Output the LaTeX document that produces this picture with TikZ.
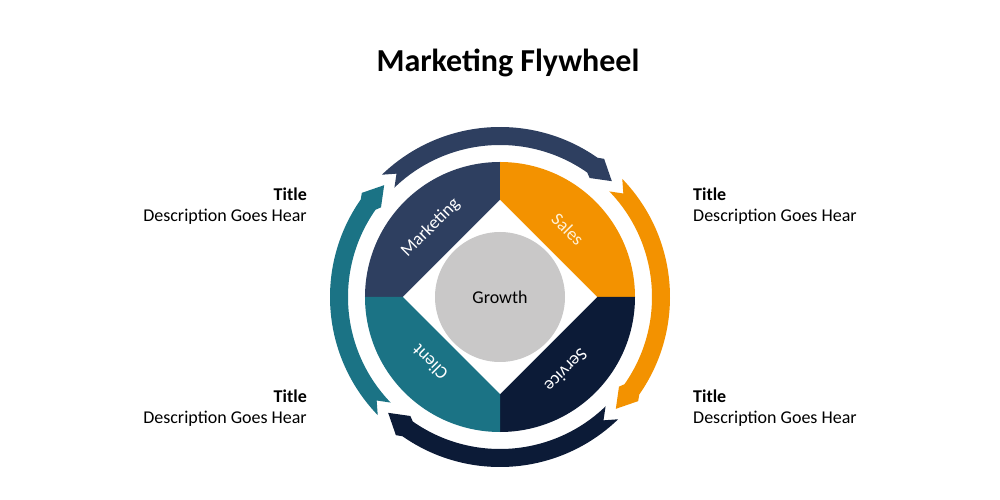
\documentclass[tikz,border=0pt]{standalone}
\usepackage{fontspec}
\setmainfont{Carlito}
\definecolor{cslate}{HTML}{2E3F60}
\definecolor{corange}{HTML}{F39200}
\definecolor{cnavy}{HTML}{0C1B37}
\definecolor{cteal}{HTML}{1B7385}
\definecolor{cgray}{HTML}{C9C8C8}
\definecolor{ccream}{HTML}{FFF1D6}
\tikzset{
  seglabel/.style={font=\fontsize{18}{20}\selectfont, text=white, inner sep=0pt},
  sidetitle/.style={font=\bfseries\fontsize{18}{20}\selectfont, anchor=base east, inner sep=0pt},
  sidedesc/.style={font=\fontsize{18}{20}\selectfont, anchor=base east, inner sep=0pt},
}
\begin{document}
\begin{tikzpicture}[x=1pt,y=1pt]
\useasboundingbox (-500,-203) rectangle (500,297);
% quadrants
\fill[cslate] (0,0) -- (90:135) arc[start angle=90,end angle=180,radius=135] -- cycle;
\fill[corange] (0,0) -- (0:135) arc[start angle=0,end angle=90,radius=135] -- cycle;
\fill[cnavy] (0,0) -- (-90:135) arc[start angle=-90,end angle=0,radius=135] -- cycle;
\fill[cteal] (0,0) -- (180:135) arc[start angle=180,end angle=270,radius=135] -- cycle;
% white diamond and hub
\fill[white] (0,97) -- (97,0) -- (0,-97) -- (-97,0) -- cycle;
\node[circle, fill=cgray, minimum size=130pt, inner sep=0pt, font=\fontsize{18}{20}\selectfont] (hub) at (0,0) {Growth};
% outer arrows
\foreach \B/\c in {135/cslate, 45/corange, -45/cnavy, -135/cteal}{
  \fill[\c] ({\B-1}:170) arc[start angle=\B-1, end angle=\B-80, radius=170]
    -- ({\B-82}:173) -- ({\B-89}:161) -- ({\B-82}:149) -- ({\B-80}:152)
    arc[start angle=\B-80, end angle=\B-1, radius=152]
    -- ({\B-5}:161) -- cycle;
}
% segment labels
\node[seglabel, rotate=45] (lmarketing) at (135:98) {Marketing};
\node[seglabel, rotate=-45, text=ccream] (lsales) at (45:96) {Sales};
\node[seglabel, rotate=225] (lservice) at (-48:99) {Service};
\node[seglabel, rotate=135] (lclient) at (-137:96) {Client};
% title
\node[font=\bfseries\fontsize{32}{36}\selectfont, anchor=base, inner sep=0pt] (title) at (8,225) {Marketing Flywheel};
% side texts
\node[sidetitle] (t1) at (-193,96) {Title};
\node[sidedesc] (d1) at (-193,75) {Description Goes Hear};
\node[sidetitle] (t3) at (-193,-105) {Title};
\node[sidedesc] (d3) at (-193,-126) {Description Goes Hear};
\node[sidetitle, anchor=base west] (t2) at (193,96) {Title};
\node[sidedesc, anchor=base west] (d2) at (193,75) {Description Goes Hear};
\node[sidetitle, anchor=base west] (t4) at (193,-105) {Title};
\node[sidedesc, anchor=base west] (d4) at (193,-126) {Description Goes Hear};
\end{tikzpicture}
\end{document}
